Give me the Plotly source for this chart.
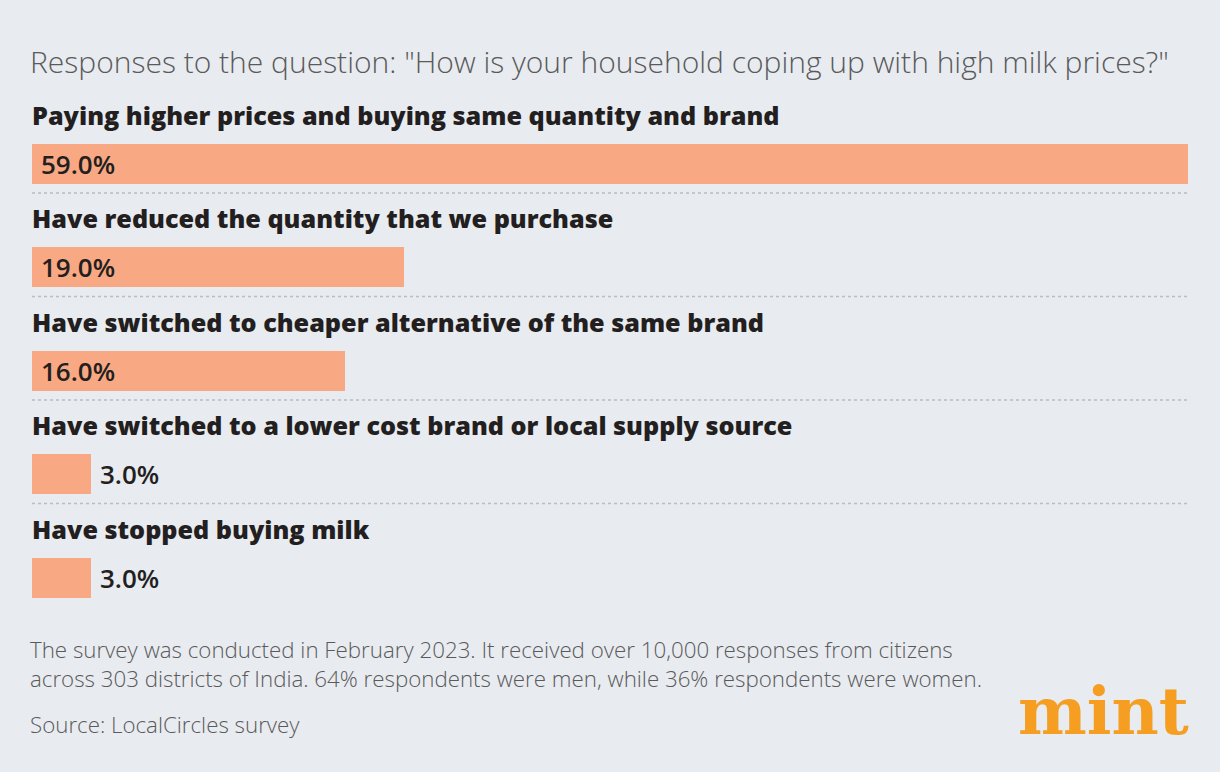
import plotly.graph_objects as go

categories = [
    "Paying higher prices and buying same quantity and brand",
    "Have reduced the quantity that we purchase",
    "Have switched to cheaper alternative of the same brand",
    "Have switched to a lower cost brand or local supply source",
    "Have stopped buying milk",
]
values = [59.0, 19.0, 16.0, 3.0, 3.0]
value_labels = ["59.0%", "19.0%", "16.0%", "3.0%", "3.0%"]

title_text = 'Responses to the question: "How is your household coping up with high milk prices?"'
note_lines = [
    "The survey was conducted in February 2023. It received over 10,000 responses from citizens",
    "across 303 districts of India. 64% respondents were men, while 36% respondents were women.",
]
source_text = "Source: LocalCircles survey"

BG = "#E8EBF0"
BAR = "#F8A983"
DARK = "#231F20"
GREY = "#5A5A5A"
FONT = "Open Sans"

W, H = 1220, 772
ML, MR, MT, MB = 32, 32, 100, 152
plot_h = H - MT - MB
step_px = 103.5
r_top = -0.618
r_bot = r_top + plot_h / step_px
px = 1.0 / step_px  # data units per pixel (y)

ypos = list(range(len(categories)))

fig = go.Figure()
fig.add_trace(go.Bar(
    x=values, y=ypos, orientation="h",
    marker=dict(color=BAR, line=dict(width=0)),
    width=40 * px,
    hoverinfo="skip",
))

annotations = []
shapes = []
for i, (cat, v, lab) in enumerate(zip(categories, values, value_labels)):
    annotations.append(dict(
        x=0, y=i - 49 * px, xref="x", yref="y", text=cat, showarrow=False,
        xanchor="left", yanchor="middle", xshift=-2,
        font=dict(family=FONT, size=25.2, color=DARK, weight=800),
    ))
    inside = v > 10
    annotations.append(dict(
        x=0 if inside else v, y=i, xref="x", yref="y", text=lab, showarrow=False,
        xanchor="left", yanchor="middle", xshift=7,
        font=dict(family=FONT, size=26, color=DARK, weight=600),
    ))
    if i < len(categories) - 1:
        shapes.append(dict(
            type="line", xref="x", yref="y", x0=0, x1=max(values),
            y0=i + 29 * px, y1=i + 29 * px,
            line=dict(color="#B9BCC2", width=1.5, dash="dot"),
        ))


def pxx(x):
    return (x - ML) / (W - ML - MR)


def pxy(y):
    return 1 - (y - MT) / plot_h


annotations += [
    dict(x=pxx(28), y=pxy(61), xref="paper", yref="paper", text=title_text,
         showarrow=False, xanchor="left", yanchor="middle",
         font=dict(family=FONT, size=30, color=GREY, weight=300)),
    dict(x=pxx(28), y=pxy(649), xref="paper", yref="paper", text=note_lines[0],
         showarrow=False, xanchor="left", yanchor="middle",
         font=dict(family=FONT, size=22.3, color=GREY, weight=300)),
    dict(x=pxx(28), y=pxy(678), xref="paper", yref="paper", text=note_lines[1],
         showarrow=False, xanchor="left", yanchor="middle",
         font=dict(family=FONT, size=22.3, color=GREY, weight=300)),
    dict(x=pxx(28), y=pxy(724), xref="paper", yref="paper", text=source_text,
         showarrow=False, xanchor="left", yanchor="middle",
         font=dict(family=FONT, size=22.3, color=GREY, weight=300)),
    dict(x=pxx(1191), y=pxy(711), xref="paper", yref="paper", text="mint",
         showarrow=False, xanchor="right", yanchor="middle",
         font=dict(family="DejaVu Serif", size=65, color="#F59E22", weight=900)),
]

fig.update_layout(
    annotations=annotations, shapes=shapes,
    width=W, height=H,
    margin=dict(l=ML, r=MR, t=MT, b=MB, pad=0),
    paper_bgcolor=BG, plot_bgcolor=BG,
    showlegend=False,
    xaxis=dict(range=[0, max(values)], visible=False, fixedrange=True),
    yaxis=dict(range=[r_bot, r_top], visible=False, fixedrange=True),
    bargap=0,
)

fig.write_html("out.html", config={"displayModeBar": False})
